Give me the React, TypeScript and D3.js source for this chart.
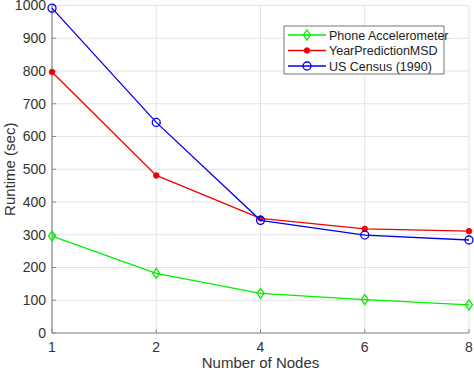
import React from "react";
import * as d3 from "d3";

const nodes = ["1", "2", "4", "6", "8"];
const phoneAcc = [296, 182, 121, 102, 86];
const yearPred = [797, 481, 350, 318, 311];
const usCensus = [992, 643, 344, 299, 284];
const yTicks = [0, 100, 200, 300, 400, 500, 600, 700, 800, 900, 1000];

const W = 474, H = 372;
const m = { left: 52, right: 5, top: 5.5, bottom: 39 };

export default function App() {
  const x = d3.scalePoint<string>().domain(nodes).range([m.left, W - m.right]);
  const y = d3.scaleLinear().domain([0, 1000]).range([H - m.bottom, m.top]);
  const font = "Arial, 'Liberation Sans', Helvetica, sans-serif";
  const series = [
    { name: "Phone Accelerometer", values: phoneAcc, color: "#00ee00", marker: "diamond" },
    { name: "YearPredictionMSD", values: yearPred, color: "#f00000", marker: "star" },
    { name: "US Census (1990)", values: usCensus, color: "#0000f0", marker: "circle" },
  ];
  const line = d3.line<number>().x((_, i) => x(nodes[i])!).y((v) => y(v));
  const marker = (kind: string, cx: number, cy: number, color: string, key: any) => {
    if (kind === "circle")
      return <circle key={key} cx={cx} cy={cy} r={4} fill="none" stroke={color} strokeWidth={1.3} />;
    if (kind === "diamond")
      return (
        <path key={key} d={`M${cx},${cy - 5}L${cx + 3.5},${cy}L${cx},${cy + 5}L${cx - 3.5},${cy}Z`}
          fill="none" stroke={color} strokeWidth={1.3} />
      );
    return <circle key={key} cx={cx} cy={cy} r={2.8} fill={color} stroke={color} strokeWidth={0.8} />;
  };
  const x0 = m.left, x1 = W - m.right, yb = H - m.bottom, yt = m.top;
  const lgX = 284, lgY = 26, lgW = 160, lgH = 48;
  return (
    <svg width={W} height={H} style={{ position: "absolute", left: 0, top: 0 }} fontFamily={font}>
      <rect width={W} height={H} fill="#fff" />
      {yTicks.map((t) => (
        <line key={"gy" + t} x1={x0} x2={x1} y1={y(t)} y2={y(t)} stroke="#e3e3e3" strokeWidth={1} />
      ))}
      {nodes.map((n) => (
        <line key={"gx" + n} x1={x(n)} x2={x(n)} y1={yt} y2={yb} stroke="#e3e3e3" strokeWidth={1} />
      ))}
      <line x1={x0} x2={x0} y1={yt} y2={yb} stroke="#8a8a8a" strokeWidth={1.2} />
      <line x1={x0} x2={x1} y1={yb} y2={yb} stroke="#8a8a8a" strokeWidth={1.2} />
      {yTicks.map((t) => (
        <g key={"ty" + t}>
          <line x1={x0} x2={x0 + 4} y1={y(t)} y2={y(t)} stroke="#8a8a8a" />
          <text x={46} y={y(t)} dy="0.35em" textAnchor="end" fontSize={14} fill="#333">{t}</text>
        </g>
      ))}
      {nodes.map((n) => (
        <g key={"tx" + n}>
          <line x1={x(n)} x2={x(n)} y1={yb} y2={yb - 4} stroke="#8a8a8a" />
          <text x={x(n)} y={yb + 19} textAnchor="middle" fontSize={14} fill="#333">{n}</text>
        </g>
      ))}
      <text x={(x0 + x1) / 2} y={368} textAnchor="middle" fontSize={15} fill="#333">Number of Nodes</text>
      <text transform={`translate(15,${(yt + yb) / 2}) rotate(-90)`} textAnchor="middle" fontSize={15} fill="#333">Runtime (sec)</text>
      {series.map((s) => (
        <g key={s.name}>
          <path d={line(s.values)!} fill="none" stroke={s.color} strokeWidth={1.3} />
          {s.values.map((v, i) => marker(s.marker, x(nodes[i])!, y(v), s.color, i))}
        </g>
      ))}
      <rect x={lgX} y={lgY} width={lgW} height={lgH} fill="#fff" stroke="#777" strokeWidth={1} />
      {series.map((s, i) => {
        const cy = lgY + 9 + i * 15.5;
        return (
          <g key={"lg" + s.name}>
            <line x1={lgX + 4} x2={lgX + 42} y1={cy} y2={cy} stroke={s.color} strokeWidth={1.3} />
            {marker(s.marker, lgX + 23, cy, s.color, "m")}
            <text x={lgX + 45} y={cy} dy="0.36em" fontSize={12.5} fill="#222">{s.name}</text>
          </g>
        );
      })}
    </svg>
  );
}
